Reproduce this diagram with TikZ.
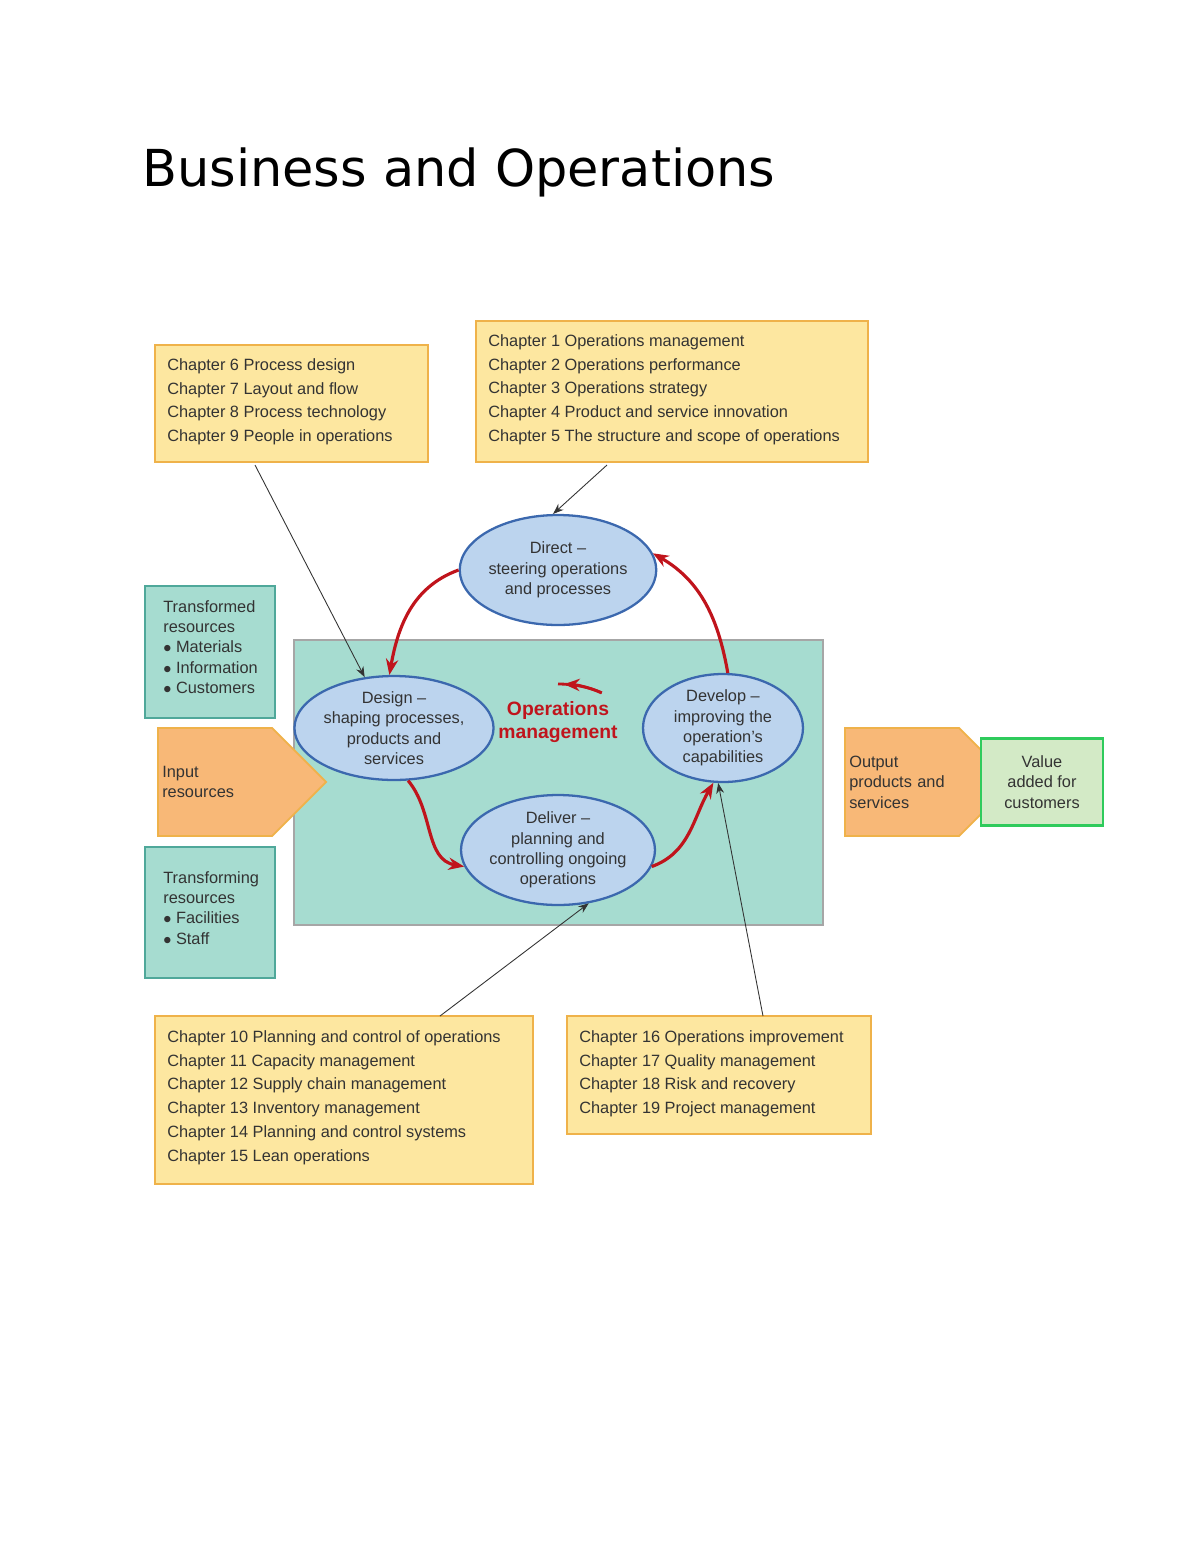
\documentclass[tikz,border=0pt]{standalone}
\usepackage{fontspec}
\setmainfont{Liberation Sans}
\newfontfamily\titlefont{DejaVu Sans}
\usetikzlibrary{arrows.meta,shapes.arrows,shapes.geometric}
\definecolor{ybox}{HTML}{FDE7A0}
\definecolor{ybord}{HTML}{EFB24A}
\definecolor{tbox}{HTML}{A6DCD0}
\definecolor{tbord}{HTML}{4FA89A}
\definecolor{ofill}{HTML}{F8B877}
\definecolor{efill}{HTML}{BCD4EE}
\definecolor{ebord}{HTML}{3B68AE}
\definecolor{gbox}{HTML}{D3EAC6}
\definecolor{redc}{HTML}{C0141C}
\begin{document}
\begin{tikzpicture}[x=0.02cm,y=-0.02cm,
  ybx/.style={draw=ybord,line width=1.4pt,fill=ybox},
  tbx/.style={draw=tbord,line width=1.4pt,fill=tbox},
  chap/.style={anchor=north west,align=left,font=\fontsize{9.3}{13.6}\selectfont,inner sep=0pt,text=black!80},
  res/.style={anchor=north west,align=left,font=\fontsize{9.3}{11.6}\selectfont,inner sep=0pt,text=black!80},
  ell/.style={ellipse,draw=ebord,line width=1.3pt,fill=efill,minimum width=3.2cm,align=center,font=\fontsize{9.3}{11.6}\selectfont,text=black!80,inner sep=0pt},
  thin/.style={-{Stealth[length=6pt]},line width=0.5pt,black!80},
  red/.style={-{Stealth[length=9pt,width=7pt]},line width=1.8pt,redc},
  oarr/.style={single arrow,draw=ybord,line width=1pt,fill=ofill,single arrow head extend=0pt,minimum width=2.16cm,text width=60pt,align=left,font=\fontsize{9.3}{11.6}\selectfont,text=black!80,inner sep=2pt}]
\useasboundingbox (0,0) rectangle (1200,1553);
\node[anchor=west,font=\titlefont\fontsize{29}{34}\selectfont] (title) at (136,172) {Business and Operations};
\draw[ybx] (155,345) rectangle (428,462);
\node[chap] (c6) at (167,358) {Chapter 6 Process design\\Chapter 7 Layout and flow\\Chapter 8 Process technology\\Chapter 9 People in operations};
\draw[ybx] (476,321) rectangle (868,462);
\node[chap] (c1) at (488,334) {Chapter 1 Operations management\\Chapter 2 Operations performance\\Chapter 3 Operations strategy\\Chapter 4 Product and service innovation\\Chapter 5 The structure and scope of operations};
\draw[tbx] (145,586) rectangle (275,718);
\node[res] (tr) at (163,600) {Transformed\\resources\\$\bullet$ Materials\\$\bullet$ Information\\$\bullet$ Customers};
\draw[tbx] (145,847) rectangle (275,978);
\node[res] (tg) at (163,871) {Transforming\\resources\\$\bullet$ Facilities\\$\bullet$ Staff};
\draw[fill=tbox,draw=gray!70,line width=1.5pt] (294,640) rectangle (823,925);
\node[oarr,minimum height=2.68cm] (in) at (215,782) {Input\\resources};
\node[oarr,minimum height=2.64cm] (out) at (902,782) {Output\\products and\\services};
\node[draw=tbord!60!green,line width=1.3pt,fill=gbox,minimum width=2.44cm,minimum height=1.74cm,align=center,font=\fontsize{9.3}{11.6}\selectfont,text=black!80] (val) at (1042,782) {Value\\added for\\customers};
\node[ell,minimum height=2.2cm] (dir) at (558,570) {Direct --\\steering operations\\and processes};
\node[ell,minimum height=2.08cm] (des) at (394,728) {Design --\\shaping processes,\\products and\\services};
\node[ell,minimum height=2.08cm] (dev) at (723,728) {Develop --\\improving the\\operation's\\capabilities};
\node[ell,minimum height=2.2cm] (del) at (558,850) {Deliver --\\planning and\\controlling ongoing\\operations};
\node[font=\bfseries\fontsize{11}{13}\selectfont,text=redc,align=center] (om) at (558,722) {Operations\\management};
\draw[red,line width=1.6pt] (558,722) ++(-50:68 and 38) arc[start angle=-50,end angle=-85,x radius=68,y radius=38];
\draw[redc,line width=1.6pt] (558,722) ++(-50:68 and 38) arc[start angle=-50,end angle=-90,x radius=68,y radius=38];
\draw[draw=none] (0,0);
\draw[ybx] (155,1016) rectangle (533,1184);
\node[chap] (c10) at (167,1030) {Chapter 10 Planning and control of operations\\Chapter 11 Capacity management\\Chapter 12 Supply chain management\\Chapter 13 Inventory management\\Chapter 14 Planning and control systems\\Chapter 15 Lean operations};
\draw[ybx] (567,1016) rectangle (871,1134);
\node[chap] (c16) at (579,1030) {Chapter 16 Operations improvement\\Chapter 17 Quality management\\Chapter 18 Risk and recovery\\Chapter 19 Project management};
\coordinate (a1) at (255,465); \coordinate (a2) at (607,465);
\coordinate (a3) at (440,1016); \coordinate (a4) at (763,1016);
\draw[thin] (a1) -- (des.120);
\draw[thin] (a2) -- (dir.95);
\draw[thin] (a3) -- (del.-60);
\draw[thin] (a4) -- (dev.-95);
\draw[red] (dir.west) to[out=200,in=80] (des.95);
\draw[red] (dev.85) to[out=100,in=-30] (dir.10);
\draw[red] (des.-75) to[out=-50,in=170] (del.190);
\draw[red] (del.-10) to[out=20,in=-120] (dev.-100);
\end{tikzpicture}
\end{document}
